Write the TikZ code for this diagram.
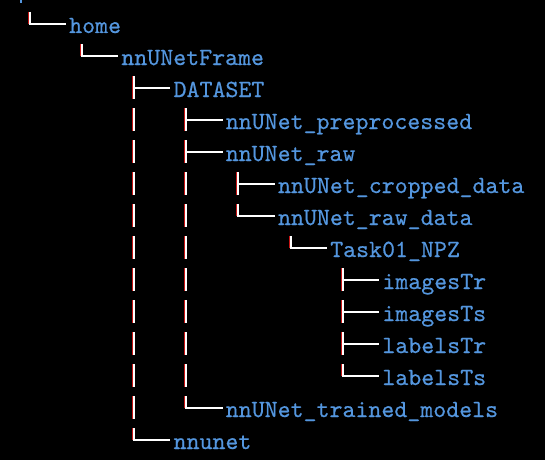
\documentclass[tikz,border=0pt]{standalone}
\usepackage{fontspec}
\newfontfamily\lmmono[FakeBold=0.5]{lmmono10-regular.otf}
\definecolor{txtblue}{RGB}{84,150,222}
\definecolor{fringe}{RGB}{200,20,20}
\tikzset{
  lbl/.style={anchor=base west, inner sep=0pt, text=txtblue, font=\lmmono\fontsize{24.7}{24.7}\selectfont},
  redl/.style={draw=fringe, line width=1pt},
  whl/.style={draw=white, line width=2pt},
}
% #1 col, #2 row, #3 text, #4 extension below the branch (0 = corner, 11 = tee)
\newcommand\ent[4]{%
  \node[lbl] (n#2) at ({69+52.2*#1},{33+32*#2}) {#3};
  \coordinate (t#2) at ({29.5+52.2*#1},{12+32*#2});
  \coordinate (h#2) at ({29.5+52.2*#1},{24+32*#2});
  \coordinate (b#2) at ({29.5+52.2*#1},{24+32*#2+#4});
  \draw[redl] ([xshift=-1.5pt]t#2) -- ([xshift=-1.5pt]b#2);
  \draw[whl] (t#2) -- (b#2);
  \draw[whl] ([xshift=-1pt]h#2) -- ([xshift=-3pt,yshift=9pt]n#2.base west);
}
% vertical continuation bar: #1 col, #2 row
\newcommand\vb[2]{%
  \coordinate (vt#1r#2) at ({29.5+52.2*#1},{12+32*#2});
  \coordinate (vb#1r#2) at ({29.5+52.2*#1},{35+32*#2});
  \draw[redl] ([xshift=-1.5pt]vt#1r#2) -- ([xshift=-1.5pt]vb#1r#2);
  \draw[whl] (vt#1r#2) -- (vb#1r#2);
}
\begin{document}
\begin{tikzpicture}[x=1pt,y=-1pt]
\fill[black] (0,0) rectangle (545,460);
\useasboundingbox (0,0) rectangle (545,460);
\fill[txtblue] (19.5,0) rectangle (21.5,3);
\ent{0}{0}{home}{0}
\ent{1}{1}{nnUNetFrame}{0}
\ent{2}{2}{DATASET}{11}
\ent{3}{3}{nnUNet\_preprocessed}{11}
\ent{3}{4}{nnUNet\_raw}{11}
\ent{4}{5}{nnUNet\_cropped\_data}{11}
\ent{4}{6}{nnUNet\_raw\_data}{0}
\ent{5}{7}{Task01\_NPZ}{0}
\ent{6}{8}{imagesTr}{11}
\ent{6}{9}{imagesTs}{11}
\ent{6}{10}{labelsTr}{11}
\ent{6}{11}{labelsTs}{0}
\ent{3}{12}{nnUNet\_trained\_models}{0}
\ent{2}{13}{nnunet}{0}
\foreach \r in {3,...,12} {\vb{2}{\r}}
\foreach \r in {5,...,11} {\vb{3}{\r}}
\end{tikzpicture}
\end{document}
